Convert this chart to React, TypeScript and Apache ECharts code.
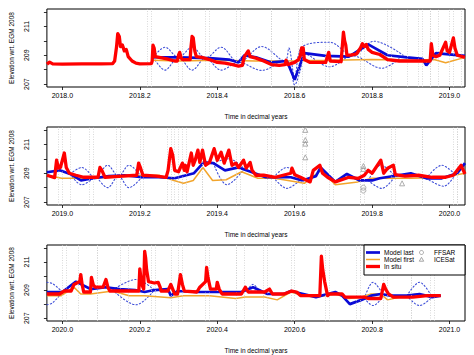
import React, { useEffect, useRef } from "react";
import * as echarts from "echarts";

type Pt = [number, number];

// ---------- axes ----------
const xRanges: [number, number][] = [
  [2017.96, 2019.04],
  [2018.96, 2020.04],
  [2019.96, 2021.04],
];
const xTicks: number[][] = [
  [2018.0, 2018.2, 2018.4, 2018.6, 2018.8, 2019.0],
  [2019.0, 2019.2, 2019.4, 2019.6, 2019.8, 2020.0],
  [2020.0, 2020.2, 2020.4, 2020.6, 2020.8, 2021.0],
];
const yTicks = [207, 208, 209, 210, 211, 212];
const yLabels = [207, 209, 211];

// ---------- panel 1 (2018) ----------
const inSitu2018: Pt[] = [
  [2017.96, 208.38], [2017.967, 208.52], [2017.975, 208.4], [2018.0, 208.38], [2018.05, 208.4],
  [2018.1, 208.4], [2018.13, 208.42], [2018.135, 208.6], [2018.14, 209.6], [2018.143, 210.5],
  [2018.147, 210.3], [2018.15, 209.6], [2018.155, 209.7], [2018.16, 209.3], [2018.165, 209.4],
  [2018.17, 208.9], [2018.18, 208.6], [2018.19, 208.45], [2018.2, 208.4], [2018.23, 208.42],
  [2018.232, 208.6], [2018.234, 209.7], [2018.237, 209.5], [2018.24, 208.9], [2018.25, 208.85],
  [2018.27, 208.75], [2018.29, 208.6], [2018.297, 208.6], [2018.3, 209.0], [2018.303, 209.2],
  [2018.307, 208.8], [2018.31, 208.7], [2018.33, 208.7], [2018.332, 209.5], [2018.335, 210.3],
  [2018.338, 210.2], [2018.342, 209.3], [2018.346, 208.9], [2018.36, 208.85], [2018.38, 208.7],
  [2018.4, 208.5], [2018.42, 208.45], [2018.44, 208.35], [2018.455, 208.25], [2018.465, 208.3],
  [2018.47, 208.9], [2018.48, 209.3], [2018.485, 208.9], [2018.5, 208.8], [2018.52, 208.6],
  [2018.54, 208.35], [2018.56, 208.3], [2018.575, 208.35], [2018.578, 208.65], [2018.582, 208.35],
  [2018.6, 208.5], [2018.61, 208.7], [2018.615, 209.0], [2018.618, 209.5], [2018.622, 209.5],
  [2018.625, 208.7], [2018.64, 208.5], [2018.68, 208.5], [2018.688, 209.2], [2018.692, 208.6],
  [2018.72, 208.55], [2018.726, 210.6], [2018.729, 210.0], [2018.732, 209.7], [2018.735, 209.0],
  [2018.745, 209.0], [2018.76, 209.1], [2018.77, 209.5], [2018.775, 209.8], [2018.78, 209.6],
  [2018.785, 209.75], [2018.79, 209.4], [2018.8, 209.2], [2018.82, 209.05], [2018.84, 208.7],
  [2018.87, 208.6], [2018.9, 208.6], [2018.95, 208.6], [2018.953, 209.8], [2018.957, 209.0],
  [2018.965, 208.9], [2018.975, 209.0], [2018.99, 209.9], [2018.994, 209.3], [2019.0, 209.2],
  [2019.01, 210.2], [2019.014, 209.5], [2019.02, 209.0], [2019.04, 208.85],
];
const modelLast2018: Pt[] = [
  [2018.235, 208.86], [2018.3, 208.85], [2018.38, 208.8], [2018.43, 208.7], [2018.455, 208.5],
  [2018.47, 209.0], [2018.5, 208.85], [2018.54, 208.5], [2018.58, 208.6], [2018.6, 207.3],
  [2018.625, 209.15], [2018.68, 208.95], [2018.74, 208.9], [2018.79, 209.75], [2018.84, 209.0],
  [2018.89, 208.85], [2018.93, 208.75], [2018.94, 208.3], [2018.965, 209.15], [2019.04, 208.95],
];
const modelFirst2018: Pt[] = [
  [2018.235, 208.65], [2018.3, 208.6], [2018.4, 208.65], [2018.5, 208.6], [2018.6, 208.62],
  [2018.7, 208.65], [2018.8, 208.7], [2018.9, 208.65], [2018.96, 208.7], [2018.99, 208.48],
  [2019.04, 208.85],
];
const envUpper2018: Pt[][] = [[
  [2018.235, 208.86], [2018.265, 209.55], [2018.3, 208.85], [2018.335, 209.55], [2018.37, 208.8],
  [2018.41, 209.55], [2018.455, 208.5], [2018.515, 209.6], [2018.575, 208.6], [2018.585, 209.5],
  [2018.6, 207.5], [2018.62, 209.6], [2018.69, 209.9], [2018.75, 208.95], [2018.805, 209.97],
  [2018.88, 209.0],
]];
const envLower2018: Pt[][] = [[
  [2018.235, 208.86], [2018.265, 207.97], [2018.3, 208.85], [2018.335, 207.97], [2018.37, 208.8],
  [2018.41, 207.97], [2018.455, 208.5], [2018.515, 207.95], [2018.575, 208.6], [2018.59, 208.0],
  [2018.6, 206.95], [2018.615, 208.0], [2018.625, 209.1], [2018.69, 208.2], [2018.75, 208.95],
  [2018.825, 208.1], [2018.88, 209.0],
]];
const passes2018 = [
  2018.2225, 2018.23, 2018.2975, 2018.305, 2018.3725, 2018.38, 2018.45, 2018.46, 2018.535,
  2018.5425, 2018.605, 2018.6175, 2018.685, 2018.6925, 2018.765, 2018.7725, 2018.78, 2018.8425,
  2018.8525, 2018.8925, 2018.9225, 2018.93, 2018.9475, 2018.955, 2018.9725, 2019.0025, 2019.01,
  2019.0275,
];

// ---------- panel 2 (2019) ----------
const inSitu2019: Pt[] = [
  [2018.96, 208.86], [2018.98, 208.7], [2018.985, 209.9], [2018.99, 209.35], [2018.995, 209.4],
  [2019.0, 209.9], [2019.005, 210.4], [2019.01, 209.4], [2019.018, 209.0], [2019.035, 208.86],
  [2019.055, 208.72], [2019.092, 208.72], [2019.097, 209.4], [2019.102, 209.2], [2019.11, 208.72],
  [2019.155, 208.8], [2019.192, 208.86], [2019.197, 209.7], [2019.202, 209.35], [2019.208, 208.86],
  [2019.243, 208.8], [2019.268, 208.72], [2019.273, 209.2], [2019.28, 210.7], [2019.285, 210.25],
  [2019.29, 209.2], [2019.3, 209.1], [2019.31, 209.7], [2019.315, 209.2], [2019.3175, 209.55],
  [2019.322, 209.1], [2019.333, 210.4], [2019.338, 209.55], [2019.343, 209.9], [2019.35, 210.6],
  [2019.355, 209.75], [2019.362, 210.6], [2019.37, 209.55], [2019.38, 209.75], [2019.392, 210.7],
  [2019.4, 209.9], [2019.41, 210.45], [2019.418, 209.7], [2019.43, 210.6], [2019.438, 209.55],
  [2019.448, 209.7], [2019.455, 209.4], [2019.468, 209.9], [2019.475, 209.35], [2019.485, 209.75],
  [2019.49, 209.2], [2019.5, 208.86], [2019.52, 208.86], [2019.55, 208.72], [2019.59, 209.0],
  [2019.593, 209.35], [2019.6, 208.9], [2019.615, 208.72], [2019.64, 208.4], [2019.648, 209.2],
  [2019.665, 209.55], [2019.672, 209.0], [2019.685, 208.72], [2019.705, 208.4], [2019.74, 208.72],
  [2019.765, 208.65], [2019.78, 208.86], [2019.79, 209.2], [2019.8, 209.0], [2019.8225, 209.9],
  [2019.83, 209.0], [2019.84, 209.35], [2019.855, 209.55], [2019.86, 208.9], [2019.885, 208.8],
  [2019.92, 208.86], [2019.955, 208.72], [2019.99, 208.72], [2020.01, 208.86], [2020.03, 209.55],
  [2020.033, 209.35], [2020.04, 208.95],
];
const modelLast2019: Pt[] = [
  [2018.96, 209.07], [2018.993, 209.2], [2019.02, 208.95], [2019.048, 208.5], [2019.08, 208.65],
  [2019.12, 208.8], [2019.16, 208.86], [2019.205, 208.72], [2019.25, 208.72], [2019.29, 208.65],
  [2019.34, 209.0], [2019.365, 209.75], [2019.39, 209.7], [2019.42, 209.2], [2019.455, 209.4],
  [2019.49, 209.07], [2019.525, 208.72], [2019.59, 208.72], [2019.62, 208.5], [2019.655, 208.8],
  [2019.667, 209.4], [2019.705, 208.4], [2019.735, 208.95], [2019.768, 208.5], [2019.8, 208.5],
  [2019.82, 208.65], [2019.9, 209.0], [2019.94, 208.65], [2019.98, 208.65], [2020.02, 209.0],
  [2020.04, 209.7],
];
const modelFirst2019: Pt[] = [
  [2018.96, 208.86], [2018.998, 208.65], [2019.04, 208.65], [2019.08, 208.65], [2019.13, 208.72],
  [2019.205, 208.86], [2019.25, 208.86], [2019.288, 208.5], [2019.313, 208.3], [2019.338, 208.5],
  [2019.363, 209.4], [2019.388, 208.5], [2019.423, 208.55], [2019.463, 209.1], [2019.505, 208.65],
  [2019.548, 208.65], [2019.625, 208.3], [2019.668, 209.2], [2019.705, 208.2], [2019.763, 208.4],
  [2019.8, 208.65], [2019.9, 208.65], [2019.98, 208.7], [2020.04, 209.0],
];
const envUpper2019: Pt[][] = [
  [[2019.02, 208.95], [2019.05, 209.4], [2019.08, 208.65]],
  [[2019.09, 208.7], [2019.117, 209.55], [2019.145, 208.8], [2019.172, 209.55], [2019.205, 208.72]],
  [[2019.39, 209.7], [2019.43, 210.0], [2019.47, 209.3]],
  [[2019.545, 208.72], [2019.58, 209.4], [2019.615, 208.55]],
  [[2019.79, 208.5], [2019.8225, 209.55], [2019.86, 208.8]],
  [[2019.94, 208.65], [2019.98, 209.55], [2020.015, 208.9]],
];
const envLower2019: Pt[][] = [
  [[2019.02, 208.95], [2019.05, 208.2], [2019.08, 208.65]],
  [[2019.09, 208.7], [2019.117, 208.0], [2019.145, 208.8], [2019.172, 208.0], [2019.205, 208.72]],
  [[2019.39, 209.7], [2019.425, 208.2], [2019.47, 209.3]],
  [[2019.545, 208.72], [2019.58, 207.95], [2019.615, 208.55]],
  [[2019.79, 208.5], [2019.825, 207.95], [2019.86, 208.8]],
  [[2019.94, 208.65], [2019.985, 208.1], [2020.015, 208.9]],
];
const passes2019 = [
  2018.9875, 2018.9975, 2019.0225, 2019.0725, 2019.08, 2019.1375, 2019.1475, 2019.155, 2019.2,
  2019.21, 2019.2725, 2019.28, 2019.2875, 2019.3, 2019.31, 2019.3175, 2019.355, 2019.3625,
  2019.455, 2019.4625, 2019.53, 2019.54, 2019.5475, 2019.6225, 2019.63, 2019.6925, 2019.7025,
  2019.765, 2019.7725, 2019.78, 2019.8525, 2019.86, 2019.9275, 2019.935, 2020.005, 2020.015,
  2020.0225,
];
const icesat2019: Pt[] = [
  [2019.6275, 212.0], [2019.6275, 211.3], [2019.6275, 211.05], [2019.6275, 210.1],
  [2019.7775, 209.5], [2019.7775, 209.3], [2019.8775, 208.3],
];
const ffsar2019: Pt[] = [[2019.7775, 208.0], [2019.7775, 207.8]];

// ---------- panel 3 (2020) ----------
const inSitu2020: Pt[] = [
  [2019.96, 208.72], [2019.9925, 208.72], [2020.005, 208.93], [2020.0225, 208.93], [2020.03, 209.4],
  [2020.045, 209.6], [2020.0475, 210.1], [2020.051, 209.4], [2020.055, 208.86], [2020.0725, 208.86],
  [2020.075, 209.9], [2020.08, 209.35], [2020.085, 209.2], [2020.105, 209.2], [2020.1125, 209.75],
  [2020.1175, 209.2], [2020.1225, 208.93], [2020.1975, 208.93], [2020.2, 210.5], [2020.205, 209.4],
  [2020.21, 209.07], [2020.2125, 211.75], [2020.215, 211.3], [2020.2175, 210.45], [2020.2225, 209.6],
  [2020.2375, 209.5], [2020.2475, 209.55], [2020.2525, 209.2], [2020.255, 208.93], [2020.2725, 208.93],
  [2020.28, 209.4], [2020.285, 209.07], [2020.29, 208.72], [2020.2975, 208.72], [2020.305, 210.1],
  [2020.31, 209.4], [2020.315, 208.93], [2020.3475, 208.86], [2020.355, 209.2], [2020.37, 209.6],
  [2020.3725, 210.6], [2020.376, 209.9], [2020.3825, 209.07], [2020.3975, 209.07], [2020.4, 209.55],
  [2020.405, 209.07], [2020.4125, 208.72], [2020.4625, 208.72], [2020.4725, 209.2], [2020.48, 208.86],
  [2020.5225, 208.86], [2020.535, 209.07], [2020.5425, 208.72], [2020.5725, 208.72], [2020.5925, 208.93],
  [2020.605, 208.86], [2020.615, 208.6], [2020.665, 208.6], [2020.669, 211.4], [2020.6725, 210.45],
  [2020.6775, 209.6], [2020.685, 208.6], [2020.69, 208.72], [2020.7225, 208.72], [2020.73, 208.5],
  [2020.78, 208.5], [2020.79, 208.4], [2020.8225, 208.4], [2020.83, 209.4], [2020.835, 209.07],
  [2020.8425, 208.72], [2020.855, 208.5], [2020.905, 208.5], [2020.9425, 208.6], [2020.9775, 208.6],
];
const modelLast2020: Pt[] = [
  [2019.96, 208.86], [2020.0, 208.86], [2020.03, 209.5], [2020.035, 209.6], [2020.0725, 209.07],
  [2020.1125, 209.2], [2020.1475, 209.07], [2020.1875, 209.0], [2020.2125, 208.86], [2020.2375, 209.0],
  [2020.2725, 209.07], [2020.28, 208.6], [2020.2975, 208.93], [2020.3475, 208.86], [2020.4125, 208.86],
  [2020.4625, 208.86], [2020.4925, 209.2], [2020.53, 208.72], [2020.5725, 208.72], [2020.59, 208.93],
  [2020.6225, 208.72], [2020.655, 208.5], [2020.705, 208.86], [2020.7225, 208.6], [2020.7425, 208.0],
  [2020.7725, 208.3], [2020.7975, 208.6], [2020.8225, 208.72], [2020.8475, 208.6], [2020.89, 208.6],
  [2020.9225, 208.72], [2020.955, 208.5], [2020.9775, 208.6],
];
const modelFirst2020: Pt[] = [
  [2019.96, 208.6], [2019.9975, 208.6], [2020.03, 209.2], [2020.0475, 208.72], [2020.0725, 208.72],
  [2020.13, 208.93], [2020.1725, 208.6], [2020.2125, 208.6], [2020.28, 208.45], [2020.3125, 208.6],
  [2020.38, 208.6], [2020.4475, 208.4], [2020.4725, 208.5], [2020.5225, 208.5], [2020.555, 208.3],
  [2020.59, 208.86], [2020.6225, 208.6], [2020.655, 208.5], [2020.705, 208.72], [2020.74, 208.4],
  [2020.7725, 208.5], [2020.7975, 208.72], [2020.8225, 208.72], [2020.84, 208.3], [2020.8725, 208.5],
  [2020.915, 208.72], [2020.955, 208.5], [2020.9775, 208.6],
];
const envUpper2020: Pt[][] = [
  [[2019.96, 209.55], [2019.975, 209.45], [2020.0, 208.86]],
  [[2020.13, 209.0], [2020.19, 209.75], [2020.2375, 209.0]],
  [[2020.478, 209.0], [2020.4925, 209.4], [2020.507, 209.0]],
  [[2020.78, 208.4], [2020.8025, 209.55], [2020.83, 208.6]],
  [[2020.89, 208.6], [2020.9225, 209.55], [2020.955, 208.5]],
];
const envLower2020: Pt[][] = [
  [[2019.96, 207.95], [2019.975, 208.1], [2020.0, 208.86]],
  [[2020.13, 209.0], [2020.19, 207.95], [2020.2375, 209.0]],
  [[2020.478, 209.0], [2020.4925, 208.9], [2020.507, 209.0]],
  [[2020.78, 208.4], [2020.8025, 207.9], [2020.83, 208.6]],
  [[2020.89, 208.6], [2020.9225, 207.9], [2020.955, 208.5]],
];
const passes2020 = [
  2020.0, 2020.01, 2020.035, 2020.085, 2020.0925, 2020.155, 2020.1675, 2020.23, 2020.2375,
  2020.275, 2020.2975, 2020.305, 2020.3725, 2020.38, 2020.4475, 2020.455, 2020.4725, 2020.5175,
  2020.5275, 2020.5925, 2020.6025, 2020.68, 2020.69, 2020.755, 2020.765, 2020.83, 2020.84,
  2020.8975, 2020.905, 2020.955, 2020.965,
];

// ---------- assembly ----------
const panels = [
  { inSitu: inSitu2018, last: modelLast2018, first: modelFirst2018, up: envUpper2018, lo: envLower2018, passes: passes2018, icesat: [] as Pt[], ffsar: [] as Pt[] },
  { inSitu: inSitu2019, last: modelLast2019, first: modelFirst2019, up: envUpper2019, lo: envLower2019, passes: passes2019, icesat: icesat2019, ffsar: ffsar2019 },
  { inSitu: inSitu2020, last: modelLast2020, first: modelFirst2020, up: envUpper2020, lo: envLower2020, passes: passes2020, icesat: [] as Pt[], ffsar: [] as Pt[] },
];

const gapJoin = (lobes: Pt[][]) =>
  lobes.flatMap((l, k) => (k ? [[l[0][0], "-"] as any, ...l] : l));

const FONT = "'Liberation Sans', Arial, sans-serif";
const BLUE = "#0b0bd6";
const ORANGE = "#f2a52c";
const RED = "#ff0000";
const DOT = "#3f4fd8";
const GREY = "#9a9a9a";

const tops = [9, 127, 245];
const GRID_LEFT = 32;
const GRID_W = 433;
const GRID_H = 78;

function buildOption() {
  const grid = tops.map((t) => ({
    left: GRID_LEFT, top: t, width: GRID_W, height: GRID_H,
    show: true, borderColor: "#000", borderWidth: 1, backgroundColor: "transparent",
  }));
  const xAxis = xRanges.map((r, i) => ({
    type: "value", gridIndex: i, min: r[0], max: r[1],
    axisLine: { show: false },
    splitLine: { show: false },
    axisTick: { show: true, customValues: xTicks[i], length: 3, lineStyle: { color: "#000", width: 0.8 } },
    axisLabel: { customValues: xTicks[i], formatter: (v: number) => v.toFixed(1), fontSize: 7, color: "#000", margin: 5, fontFamily: FONT },
    name: "Time in decimal years", nameLocation: "middle", nameGap: 26,
    nameTextStyle: { fontSize: 6.5, color: "#000", fontFamily: FONT },
  }));
  const yAxis = tops.map((_, i) => ({
    type: "value", gridIndex: i, min: 206.8, max: 212.2,
    axisLine: { show: false },
    splitLine: { show: false },
    axisTick: { show: true, customValues: yTicks, length: 3, lineStyle: { color: "#000", width: 0.8 } },
    axisLabel: { customValues: yLabels, rotate: 90, fontSize: 7, color: "#000", margin: 17, fontFamily: FONT },
    name: "Elevation wrt. EGM 2008", nameLocation: "middle", nameGap: 15,
    nameTextStyle: { fontSize: 6.5, color: "#000", fontFamily: FONT },
  }));
  const series: any[] = [];
  panels.forEach((p, i) => {
    const base = { xAxisIndex: i, yAxisIndex: i, symbol: "none", animation: false, silent: true };
    series.push({
      ...base, type: "line", name: "pass", data: [], z: 1,
      markLine: {
        silent: true, symbol: ["none", "none"], label: { show: false },
        lineStyle: { color: "#c8c8c8", type: [1, 1.5], width: 0.7 },
        data: p.passes.map((t) => ({ xAxis: t })),
        animation: false,
      },
    });
    [p.up, p.lo].forEach((env) => {
      series.push({
        ...base, type: "line", data: gapJoin(env), smooth: 0.35, connectNulls: false, z: 2,
        lineStyle: { color: DOT, width: 1.1, type: [1.3, 2.2], cap: "round" },
      });
    });
    series.push({ ...base, type: "line", name: "Model first", data: p.first, z: 3, lineStyle: { color: ORANGE, width: 1.5 } });
    series.push({ ...base, type: "line", name: "Model last", data: p.last, z: 4, lineStyle: { color: BLUE, width: 2.7 } });
    series.push({ ...base, type: "line", name: "In situ", data: p.inSitu, z: 5, lineStyle: { color: RED, width: 3.3, join: "round" } });
    if (p.icesat.length) {
      series.push({
        ...base, type: "scatter", data: p.icesat, symbol: "triangle", symbolSize: 5, z: 6,
        itemStyle: { color: "rgba(0,0,0,0)", borderColor: GREY, borderWidth: 1 },
      });
    }
    if (p.ffsar.length) {
      series.push({
        ...base, type: "scatter", data: p.ffsar, symbol: "circle", symbolSize: 5, z: 6,
        itemStyle: { color: "rgba(0,0,0,0)", borderColor: GREY, borderWidth: 1 },
      });
    }
  });

  const lx = 364, ly = 245;
  const legendText = (x: number, y: number, t: string) => ({
    type: "text", x, y, z: 100,
    style: { text: t, fontSize: 6.5, fontFamily: FONT, fill: "#000", verticalAlign: "middle", align: "left" },
  });
  const graphic = [
    { type: "rect", z: 99, shape: { x: lx, y: ly, width: 465 - lx, height: 30 }, style: { fill: "#fff", stroke: "#000", lineWidth: 1 } },
    { type: "line", z: 100, shape: { x1: 366, y1: 252.5, x2: 380, y2: 252.5 }, style: { stroke: BLUE, lineWidth: 2.7 } },
    { type: "line", z: 100, shape: { x1: 366, y1: 259.5, x2: 380, y2: 259.5 }, style: { stroke: ORANGE, lineWidth: 1.5 } },
    { type: "line", z: 100, shape: { x1: 366, y1: 266.5, x2: 380, y2: 266.5 }, style: { stroke: RED, lineWidth: 3.3 } },
    legendText(384, 252.5, "Model last"),
    legendText(384, 259.5, "Model first"),
    legendText(384, 266.5, "In situ"),
    { type: "circle", z: 100, shape: { cx: 421.5, cy: 252.5, r: 2 }, style: { fill: "none", stroke: GREY, lineWidth: 0.9 } },
    { type: "polygon", z: 100, shape: { points: [[421.5, 257.3], [419.3, 261.2], [423.7, 261.2]] }, style: { fill: "none", stroke: GREY, lineWidth: 0.9 } },
    legendText(434, 252.5, "FFSAR"),
    legendText(434, 259.5, "ICESat"),
  ];

  return {
    animation: false,
    backgroundColor: "#fff",
    textStyle: { fontFamily: FONT },
    grid, xAxis, yAxis, series, graphic,
  };
}

export default function App() {
  const ref = useRef<HTMLDivElement>(null);
  useEffect(() => {
    if (!ref.current) return;
    const chart = echarts.init(ref.current, undefined, { renderer: "svg" });
    chart.setOption(buildOption() as any);
    return () => chart.dispose();
  }, []);
  return (
    <div
      ref={ref}
      style={{ position: "fixed", left: 0, top: 0, width: 474, height: 355, background: "#fff" }}
    />
  );
}
